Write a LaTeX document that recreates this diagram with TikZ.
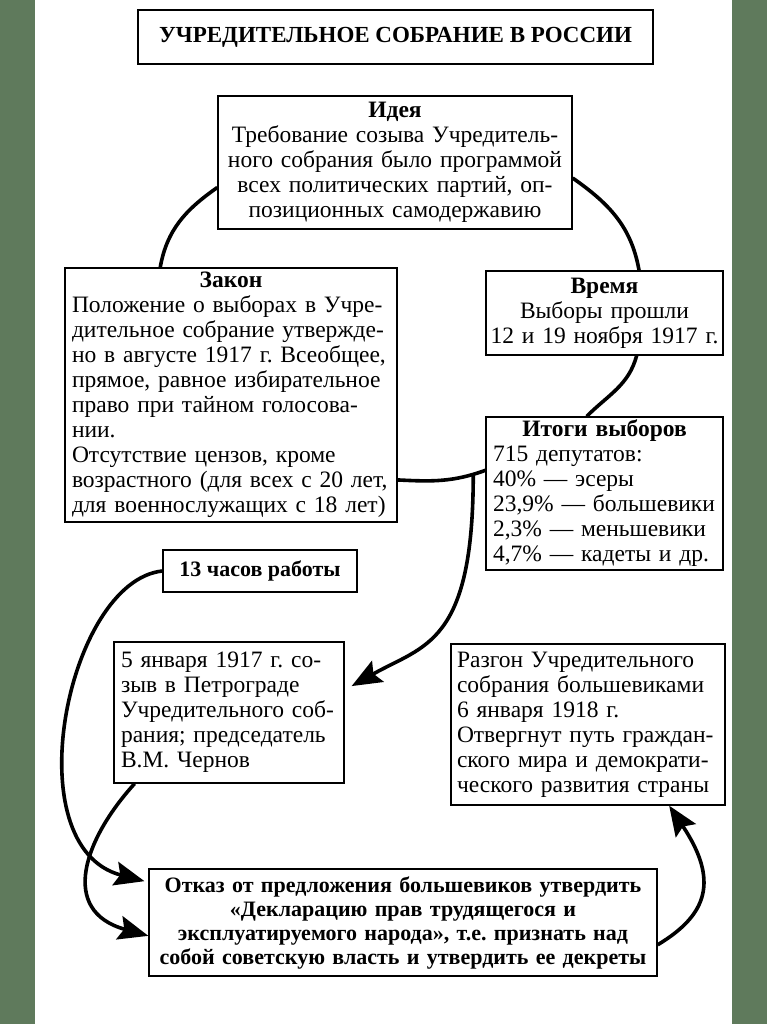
\documentclass[tikz,border=0pt]{standalone}
\usepackage{fontspec}
\setmainfont{Liberation Serif}
\usetikzlibrary{arrows.meta, positioning}
\usepackage{xcolor}
\definecolor{bargreen}{RGB}{95,122,92}
\def\bodysize{\fontsize{23.5}{25}\selectfont}
\def\headsize{\fontsize{23}{25}\selectfont\bfseries}
\frenchspacing

\begin{document}
\begin{tikzpicture}[x=1pt, y=1pt, draw=black]
    \tikzstyle{block}=[draw=black, line width=1.3pt, fill=white, inner sep=0pt, font=\bodysize]
    \tikzstyle{flow}=[line width=3.6pt]
    \tikzstyle{flow arrow}=[flow, -{Stealth[length=30pt, width=24pt, inset=5pt]}]

    \fill[white] (0,0) rectangle (767,-1024);
    \foreach \x in {0,732}{
        \fill[bargreen] (\x,0) rectangle ++(35,-1024);
    }

    \node[block, minimum width=515pt, minimum height=54pt, font=\headsize] (title) at (395.5,-37) {УЧРЕДИТЕЛЬНОЕ СОБРАНИЕ В РОССИИ};

    \node[block, minimum width=354pt, minimum height=133pt, text width=344pt, align=center] (idea) at (395,-162.5)
        {\textbf{Идея}\\ Требование созыва Учредитель-\\ного собрания было программой\\всех политических партий, оп-\\позиционных самодержавию};

    \node[block, minimum width=332pt, minimum height=254pt, text width=318pt, align=left] (law) at (231,-395)
        {{\centering\textbf{Закон}\par}Положение о выборах в Учре-\\дительное собрание утвержде-\\но в августе 1917 г. Всеобщее,\\прямое, равное избирательное\\право при тайном голосова-\\нии.\\Отсутствие цензов, кроме\\возрастного (для всех с 20 лет,\\для военнослужащих с 18 лет)};

    \node[block, minimum width=237pt, minimum height=84pt, text width=229pt, align=center] (time) at (604.5,-313)
        {\textbf{Время}\\Выборы прошли\\12 и 19 ноября 1917 г.};

    \node[block, minimum width=237pt, minimum height=153pt, text width=223pt, align=left] (results) at (604.5,-493.5)
        {{\centering\textbf{Итоги выборов}\par}715 депутатов:\\40\% — эсеры\\23,9\% — большевики\\2,3\% — меньшевики\\4,7\% — кадеты и др.};

    \node[block, minimum width=194pt, minimum height=42pt, font=\fontsize{22}{25}\selectfont\bfseries] (hours) at (260,-571) {13 часов работы};

    \node[block, minimum width=230pt, minimum height=141pt, text width=216pt, align=left] (opening) at (229,-712.5)
        {5 января 1917 г. со-\\зыв в Петрограде\\Учредительного соб-\\рания; председатель\\В.М. Чернов};

    \node[block, minimum width=274pt, minimum height=161pt, text width=262pt, align=left] (dispersal) at (588,-724.5)
        {Разгон Учредительного\\собрания большевиками\\6 января 1918 г.\\Отвергнут путь граждан-\\ского мира и демократи-\\ческого развития страны};

    \node[block, minimum width=508pt, minimum height=107pt, text width=496pt, align=center, font=\fontsize{22}{24}\selectfont\bfseries] (refusal) at (403,-922.5)
        {Отказ от предложения большевиков утвердить\\«Декларацию прав трудящегося и\\эксплуатируемого народа», т.е. признать над\\собой советскую власть и утвердить ее декреты};

    % the ring
    \draw[flow] (idea.188) to[out=215, in=80] (law.119);
    \draw[flow] (idea.-5) to[out=-35, in=100] (time.51);
    \draw[flow] (time.-53) to[out=-105, in=45] (results.103);
    \draw[flow] (law.-27.4) to[out=-3, in=200] coordinate[pos=.87] (fork) (results.169);

    \draw[flow arrow, shorten >=8pt] (fork) .. controls +(0,-170) and +(80,45) .. (opening.11);
    \draw[flow arrow, shorten >=4pt] (hours.west) .. controls +(-95,-10) and +(-135,35) .. (refusal.171);
    \draw[flow arrow] (opening.217) .. controls +(-50,-55) and +(-90,25) .. (refusal.183);
    \draw[flow arrow] (refusal.-5.5) .. controls +(50,30) and +(50,-75) .. (dispersal.-45.5);
\end{tikzpicture}
\end{document}
